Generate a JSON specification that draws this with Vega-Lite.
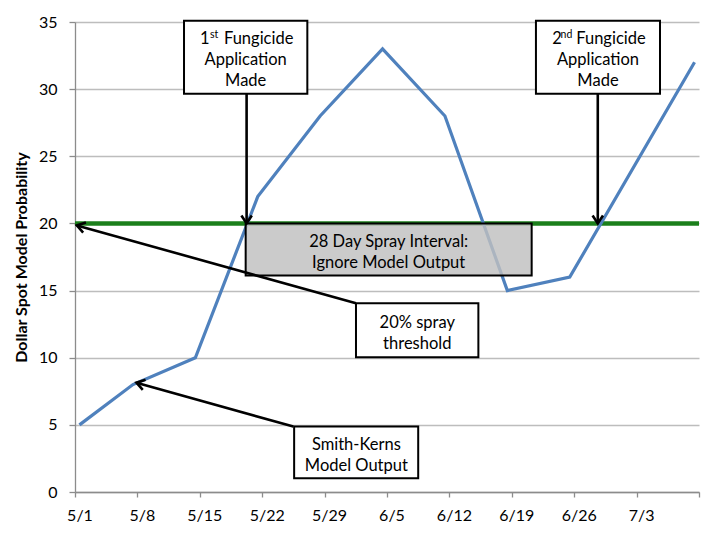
{
  "$schema": "https://vega.github.io/schema/vega-lite/v6.json",
  "width": 624,
  "height": 470,
  "autosize": "none",
  "padding": {"left": 75, "top": 22, "right": 21, "bottom": 48},
  "background": "white",
  "config": {
    "view": {"stroke": null},
    "font": "Lato",
    "text": {"font": "Lato", "fontSize": 16.5, "color": "black", "lineBreak": "|", "lineHeight": 21, "baseline": "middle", "align": "center"}
  },
  "datasets": {
    "series": [
      {"date": "2013-05-01", "prob": 5},
      {"date": "2013-05-07", "prob": 8},
      {"date": "2013-05-14", "prob": 10},
      {"date": "2013-05-21", "prob": 22},
      {"date": "2013-05-28", "prob": 28},
      {"date": "2013-06-04", "prob": 33},
      {"date": "2013-06-11", "prob": 28},
      {"date": "2013-06-18", "prob": 15},
      {"date": "2013-06-25", "prob": 16},
      {"date": "2013-07-09", "prob": 32}
    ],
    "callouts": [
      {"x": "2013-05-13T05:30:00Z", "x2": "2013-05-27T01:30:00Z", "y": 35.1, "y2": 29.66},
      {"x": "2013-06-21T17:00:00Z", "x2": "2013-07-05T15:00:00Z", "y": 35.1, "y2": 29.66},
      {"x": "2013-06-01T12:30:00Z", "x2": "2013-06-15T06:00:00Z", "y": 14.06, "y2": 10.04},
      {"x": "2013-05-25T14:00:00Z", "x2": "2013-06-08T12:00:00Z", "y": 4.87, "y2": 1.02}
    ],
    "interval": [
      {"x": "2013-05-20T03:30:00Z", "x2": "2013-06-21T05:30:00Z", "y": 20, "y2": 16.12}
    ],
    "arrows": [
      {"kind": "down", "x": "2013-05-20T06:00:00Z", "y": 29.66, "x2": "2013-05-20T06:00:00Z", "y2": 20.0},
      {"kind": "down", "x": "2013-06-28T15:30:00Z", "y": 29.66, "x2": "2013-06-28T15:30:00Z", "y2": 20.0},
      {"kind": "diag", "x": "2013-06-01T12:30:00Z", "y": 14.06, "x2": "2013-05-01T05:00:00Z", "y2": 19.85},
      {"kind": "diag", "x": "2013-05-25T11:45:00Z", "y": 4.87, "x2": "2013-05-07T21:30:00Z", "y2": 8.14}
    ],
    "notes": [
      {"text": "Application|Made", "x": "2013-05-20T03:30:00Z", "y": 32.19},
      {"text": "Application|Made", "x": "2013-06-28T16:00:00Z", "y": 32.19},
      {"text": "20% spray|threshold", "x": "2013-06-08T09:30:00Z", "y": 12.57},
      {"text": "Smith-Kerns|Model Output", "x": "2013-06-01T13:30:00Z", "y": 3.5},
      {"text": "28 Day Spray Interval:|Ignore Model Output", "x": "2013-06-05T04:30:00Z", "y": 18.65}
    ],
    "heads": [
      {"num": "1", "sup": "st", "word": "Fungicide", "x": "2013-05-20T03:30:00Z", "y": 33.73},
      {"num": "2", "sup": "nd", "word": "Fungicide", "x": "2013-06-28T16:00:00Z", "y": 33.73}
    ]
  },
  "layer": [
    {
      "data": {"values": [{"threshold": 20}]},
      "mark": {"type": "rule", "color": "#1b7f1b", "strokeWidth": 4.5},
      "encoding": {
        "y": {
          "field": "threshold", "type": "quantitative",
          "title": "Dollar Spot Model Probability",
          "scale": {"domain": [0, 35], "nice": false, "zero": true},
          "axis": {
            "values": [0, 5, 10, 15, 20, 25, 30, 35],
            "grid": true, "gridColor": "#bdbdbd", "gridWidth": 1.3,
            "domainColor": "#8c8c8c", "domainWidth": 1.3,
            "tickColor": "#8c8c8c", "tickSize": 6, "tickWidth": 1.3,
            "labelFontSize": 16, "labelColor": "black", "labelPadding": 12, "labelFont": "Lato",
            "titleFontSize": 16, "titleFontWeight": "bold", "titleColor": "black", "titleFont": "Lato", "titlePadding": 9
          }
        }
      }
    },
    {
      "data": {"name": "series"},
      "mark": {"type": "line", "color": "#4f81bd", "strokeWidth": 3.2},
      "encoding": {
        "x": {
          "field": "date", "type": "temporal", "timeUnit": "utcyearmonthdate", "bandPosition": 0.5,
          "title": null,
          "scale": {"type": "utc", "domain": [
            {"year": 2013, "month": 5, "date": 1, "utc": true},
            {"year": 2013, "month": 7, "date": 10, "utc": true}
          ], "nice": false},
          "axis": {
            "values": [
              {"year": 2013, "month": 5, "date": 1, "utc": true},
              {"year": 2013, "month": 5, "date": 8, "utc": true},
              {"year": 2013, "month": 5, "date": 15, "utc": true},
              {"year": 2013, "month": 5, "date": 22, "utc": true},
              {"year": 2013, "month": 5, "date": 29, "utc": true},
              {"year": 2013, "month": 6, "date": 5, "utc": true},
              {"year": 2013, "month": 6, "date": 12, "utc": true},
              {"year": 2013, "month": 6, "date": 19, "utc": true},
              {"year": 2013, "month": 6, "date": 26, "utc": true},
              {"year": 2013, "month": 7, "date": 3, "utc": true},
              {"year": 2013, "month": 7, "date": 10, "utc": true}
            ],
            "labelExpr": "utcFormat(datum.value, '%-m/%-d') == '7/10' ? '' : utcFormat(datum.value, '%-m/%-d')",
            "labelOffset": 4.5, "labelOverlap": false, "labelBound": false, "labelFlush": false,
            "grid": false,
            "domainColor": "#8c8c8c", "domainWidth": 1.3,
            "tickColor": "#8c8c8c", "tickSize": 5, "tickWidth": 1.3,
            "labelFontSize": 16, "labelColor": "black", "labelPadding": 10, "labelFont": "Lato"
          }
        },
        "y": {"field": "prob", "type": "quantitative", "title": "Dollar Spot Model Probability"}
      }
    },
    {
      "data": {"name": "interval"},
      "mark": {"type": "rect", "fill": "#bfbfbf", "fillOpacity": 0.82, "stroke": "black", "strokeWidth": 2},
      "encoding": {
        "x": {"field": "x", "type": "temporal", "title": null},
        "x2": {"field": "x2"},
        "y": {"field": "y", "type": "quantitative", "title": "Dollar Spot Model Probability"},
        "y2": {"field": "y2"}
      }
    },
    {
      "data": {"name": "arrows"},
      "mark": {"type": "rule", "color": "black", "strokeWidth": 2.6},
      "encoding": {
        "x": {"field": "x", "type": "temporal", "title": null},
        "x2": {"field": "x2"},
        "y": {"field": "y", "type": "quantitative", "title": "Dollar Spot Model Probability"},
        "y2": {"field": "y2"}
      }
    },
    {
      "data": {"name": "arrows"},
      "transform": [{"filter": "datum.kind == 'down'"}],
      "mark": {"type": "point", "shape": "M-0.65,-1L0,0L0.65,-1", "filled": false, "stroke": "black", "strokeWidth": 2.6, "size": 256, "opacity": 1, "angle": 0},
      "encoding": {
        "x": {"field": "x2", "type": "temporal", "title": null},
        "y": {"field": "y2", "type": "quantitative", "title": "Dollar Spot Model Probability"}
      }
    },
    {
      "data": {"name": "arrows"},
      "transform": [{"filter": "datum.kind == 'diag'"}],
      "mark": {"type": "point", "shape": "M-0.65,-1L0,0L0.65,-1", "filled": false, "stroke": "black", "strokeWidth": 2.6, "size": 256, "opacity": 1, "angle": 105.7},
      "encoding": {
        "x": {"field": "x2", "type": "temporal", "title": null},
        "y": {"field": "y2", "type": "quantitative", "title": "Dollar Spot Model Probability"}
      }
    },
    {
      "data": {"name": "callouts"},
      "mark": {"type": "rect", "fill": "white", "stroke": "black", "strokeWidth": 2, "clip": false},
      "encoding": {
        "x": {"field": "x", "type": "temporal", "title": null},
        "x2": {"field": "x2"},
        "y": {"field": "y", "type": "quantitative", "title": "Dollar Spot Model Probability"},
        "y2": {"field": "y2"}
      }
    },
    {
      "data": {"name": "notes"},
      "mark": {"type": "text"},
      "encoding": {
        "x": {"field": "x", "type": "temporal", "title": null},
        "y": {"field": "y", "type": "quantitative", "title": "Dollar Spot Model Probability"},
        "text": {"field": "text"}
      }
    },
    {
      "data": {"name": "heads"},
      "mark": {"type": "text", "dx": -41},
      "encoding": {
        "x": {"field": "x", "type": "temporal", "title": null},
        "y": {"field": "y", "type": "quantitative", "title": "Dollar Spot Model Probability"},
        "text": {"field": "num"}
      }
    },
    {
      "data": {"name": "heads"},
      "mark": {"type": "text", "dx": -31.5, "dy": -4, "fontSize": 10.5},
      "encoding": {
        "x": {"field": "x", "type": "temporal", "title": null},
        "y": {"field": "y", "type": "quantitative", "title": "Dollar Spot Model Probability"},
        "text": {"field": "sup"}
      }
    },
    {
      "data": {"name": "heads"},
      "mark": {"type": "text", "dx": 13},
      "encoding": {
        "x": {"field": "x", "type": "temporal", "title": null},
        "y": {"field": "y", "type": "quantitative", "title": "Dollar Spot Model Probability"},
        "text": {"field": "word"}
      }
    }
  ]
}
